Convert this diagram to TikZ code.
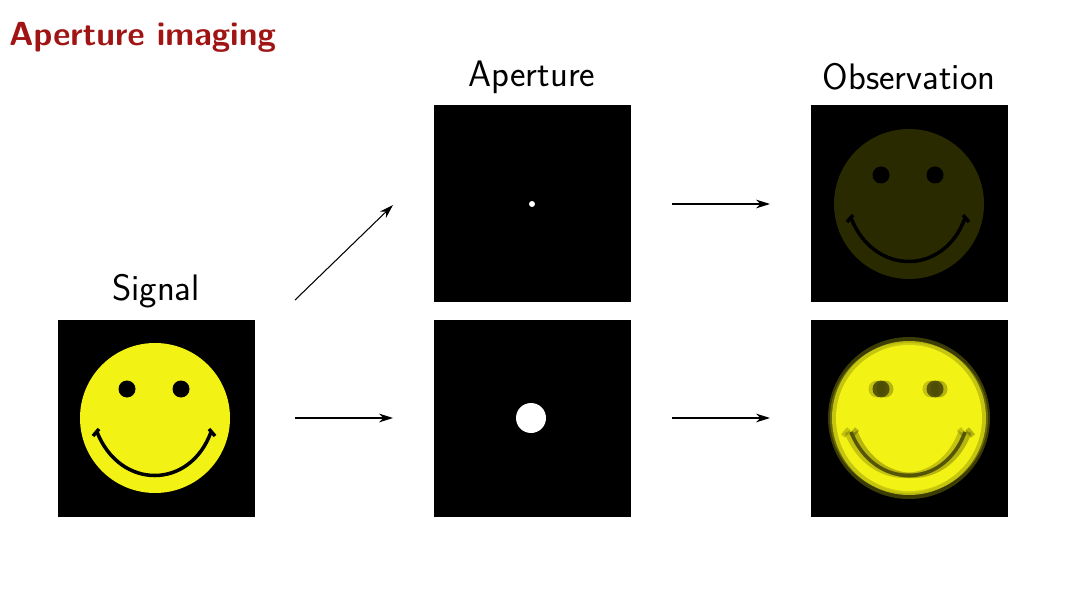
\documentclass[tikz,border=0pt]{standalone}
\usetikzlibrary{arrows.meta}
\definecolor{titlered}{RGB}{160,20,20}
\definecolor{smy}{RGB}{242,242,20}
\definecolor{dimy}{RGB}{42,42,0}
\tikzset{
  panel/.style={fill=black,draw=none},
  lbl/.style={font=\sffamily\fontsize{21}{24}\selectfont},
  conn/.style={-{Stealth[length=8pt,width=5pt]},line width=0.6pt}
}
\newcommand{\smiley}[5]{% center x,y ; face colour ; feature colour ; line width
  \fill[#3] (#1,#2) circle (75);
  \fill[#4] (#1-28,#2-29) circle (8.5);
  \fill[#4] (#1+26,#2-29) circle (8.5);
  \draw[#4,line width=#5] (#1-58,#2+14) .. controls (#1-35,#2+72) and (#1+35,#2+72) .. (#1+56,#2+14);
  \draw[#4,line width=#5] (#1-62,#2+18) -- (#1-56,#2+11);
  \draw[#4,line width=#5] (#1+60,#2+18) -- (#1+54,#2+11);
}
\begin{document}
\begin{tikzpicture}[x=0.02cm,y=-0.02cm]
\useasboundingbox (0,0) rectangle (1068,591);
\node[anchor=west,text=titlered,font=\sffamily\bfseries\fontsize{19}{22}\selectfont] (title) at (3,37) {Aperture imaging};
% panels
\fill[panel] (58,320) rectangle (255,517);
\coordinate (sig) at (156.5,418.5);
\fill[panel] (434,105) rectangle (631,302);
\coordinate (apt) at (532.5,203.5);
\fill[panel] (434,320) rectangle (631,517);
\coordinate (apb) at (532.5,418.5);
\fill[panel] (811,105) rectangle (1008,302);
\coordinate (obt) at (909.5,203.5);
\fill[panel] (811,320) rectangle (1008,517);
\coordinate (obb) at (909.5,418.5);
% labels
\node[lbl] (lsig) at (156,291) {Signal};
\node[lbl] (lapt) at (532,77) {Aperture};
\node[lbl] (lobs) at (909,77) {Observation};
% signal
\smiley{155}{418}{smy}{black}{2pt}
% apertures
\fill[white] (532,204) circle (3);
\fill[white] (531,418) circle (15);
% top observation
\smiley{909}{204}{dimy}{black}{2pt}
% bottom observation (blurred)
\fill[smy!50!black,opacity=0.5] (909,418) circle (81);
\fill[smy!75!black] (909,418) circle (77);
\fill[smy] (909,418) circle (73);
\begin{scope}[opacity=0.25]
\smiley{905}{418}{smy}{black}{3pt}
\smiley{913}{418}{smy}{black}{3pt}
\end{scope}
\fill[black!75!smy,opacity=0.8] (881,389) circle (8.5);
\fill[black!75!smy,opacity=0.8] (935,389) circle (8.5);
\draw[black!65!smy,line width=2pt] (851,432) .. controls (874,490) and (944,490) .. (965,432);
% connectors
\coordinate (a1s) at (295,300); \coordinate (a1e) at (393,205);
\coordinate (a2s) at (295,418); \coordinate (a2e) at (393,418);
\coordinate (a3s) at (672,204); \coordinate (a3e) at (770,204);
\coordinate (a4s) at (672,418); \coordinate (a4e) at (770,418);
\draw[conn] (a1s) -- (a1e);
\draw[conn] (a2s) -- (a2e);
\draw[conn] (a3s) -- (a3e);
\draw[conn] (a4s) -- (a4e);
\end{tikzpicture}
\end{document}
